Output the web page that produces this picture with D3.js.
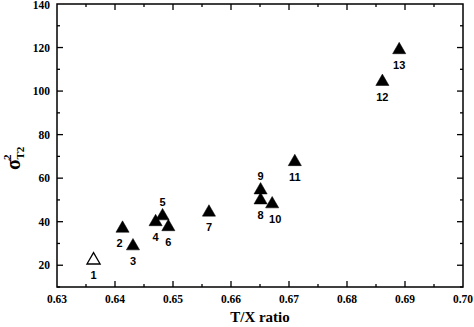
<!DOCTYPE html>
<html><head><meta charset="utf-8">
<script src="https://cdn.jsdelivr.net/npm/d3@7"></script>
<style>body{margin:0;background:#fff}svg{display:block}</style>
</head><body>
<svg id="c" width="474" height="327"></svg>
<script>
const ids = ["1","2","3","4","5","6","7","8","9","10","11","12","13"];
const txRatio = [0.6363,0.6413,0.6431,0.6470,0.6482,0.6492,0.6562,0.6651,0.6651,0.6671,0.6710,0.6861,0.6890];
const sigma2 = [22.3,36.9,28.8,39.9,42.6,37.6,44.3,49.9,54.5,48.1,67.5,104.3,118.9];
const filled = [false,true,true,true,true,true,true,true,true,true,true,true,true];
const labelAbove = ["5","9"];
const xTicks = [0.63,0.64,0.65,0.66,0.67,0.68,0.69,0.70];
const yTicks = [20,40,60,80,100,120,140];

const svg = d3.select("#c");
const L=57,R=463,T=4,B=287;
const x = d3.scaleLinear().domain([0.63,0.70]).range([L,R]);
const y = d3.scaleLinear().domain([10,140]).range([B,T]);
const font = "'Liberation Serif','Times New Roman',serif";

svg.append("rect").attr("x",L).attr("y",T).attr("width",R-L).attr("height",B-T)
  .attr("fill","none").attr("stroke","#000").attr("stroke-width",1.5);

const xMinor = d3.range(0.635,0.70,0.01);
const yMinor = d3.range(10,140,10).filter(v=>v%20!==0);

const g = svg.append("g");
function tickLines(vals, len, scaleFn, orient){
  vals.forEach(v=>{
    if(orient==="x"){
      const px=scaleFn(v);
      g.append("line").attr("x1",px).attr("x2",px).attr("y1",B).attr("y2",B-len).attr("stroke","#000").attr("stroke-width",1.3);
      g.append("line").attr("x1",px).attr("x2",px).attr("y1",T).attr("y2",T+len).attr("stroke","#000").attr("stroke-width",1.3);
    } else {
      const py=scaleFn(v);
      g.append("line").attr("x1",L).attr("x2",L+len).attr("y1",py).attr("y2",py).attr("stroke","#000").attr("stroke-width",1.3);
      g.append("line").attr("x1",R).attr("x2",R-len).attr("y1",py).attr("y2",py).attr("stroke","#000").attr("stroke-width",1.3);
    }
  });
}
tickLines(xTicks.slice(1,-1),6,x,"x");
tickLines(xMinor,3,x,"x");
tickLines(yTicks.slice(0,-1),6,y,"y");
tickLines(yMinor,3,y,"y");

svg.selectAll(".xl").data(xTicks).enter().append("text")
  .attr("x",d=>x(d)).attr("y",303).attr("text-anchor","middle")
  .attr("font-family",font).attr("font-weight","bold").attr("font-size",11.5)
  .text(d=>d3.format(".2f")(d));
svg.selectAll(".yl").data(yTicks).enter().append("text")
  .attr("x",50).attr("y",d=>Math.max(y(d)+4,9)).attr("text-anchor","end")
  .attr("font-family",font).attr("font-weight","bold").attr("font-size",11.5)
  .text(d=>d);

svg.append("text").attr("x",260).attr("y",322).attr("text-anchor","middle")
  .attr("font-family",font).attr("font-weight","bold").attr("font-size",15)
  .text("T/X ratio");

const yl = svg.append("text").attr("transform","translate(20,170) rotate(-90)")
  .attr("text-anchor","start").attr("font-family",font).attr("font-weight","bold");
yl.append("tspan").attr("font-size",20).text("σ");
yl.append("tspan").attr("font-size",11).attr("dy",-9).attr("dx",-1).text("2");
yl.append("tspan").attr("font-size",11).attr("dy",13).attr("dx",-5).text("T2");

const tri = d3.symbol(d3.symbolTriangle).size(75);
const pts = ids.map((id,i)=>({id,x:txRatio[i],y:sigma2[i],f:filled[i]}));
svg.selectAll(".pt").data(pts).enter().append("path")
  .attr("d",tri).attr("transform",d=>`translate(${x(d.x)},${y(d.y)})`)
  .attr("fill",d=>d.f?"#000":"#fff").attr("stroke","#000").attr("stroke-width",d=>d.f?0.5:1.3);
svg.selectAll(".pl").data(pts).enter().append("text")
  .attr("x",d=>x(d.x)+(d.id==="2"?-3:d.id==="10"?3:0))
  .attr("y",d=>labelAbove.includes(d.id)?y(d.y)-10:y(d.y)+19)
  .attr("text-anchor","middle").attr("font-family","'Liberation Sans',Arial,sans-serif")
  .attr("font-weight","bold").attr("font-size",11).text(d=>d.id);
</script>
</body></html>
